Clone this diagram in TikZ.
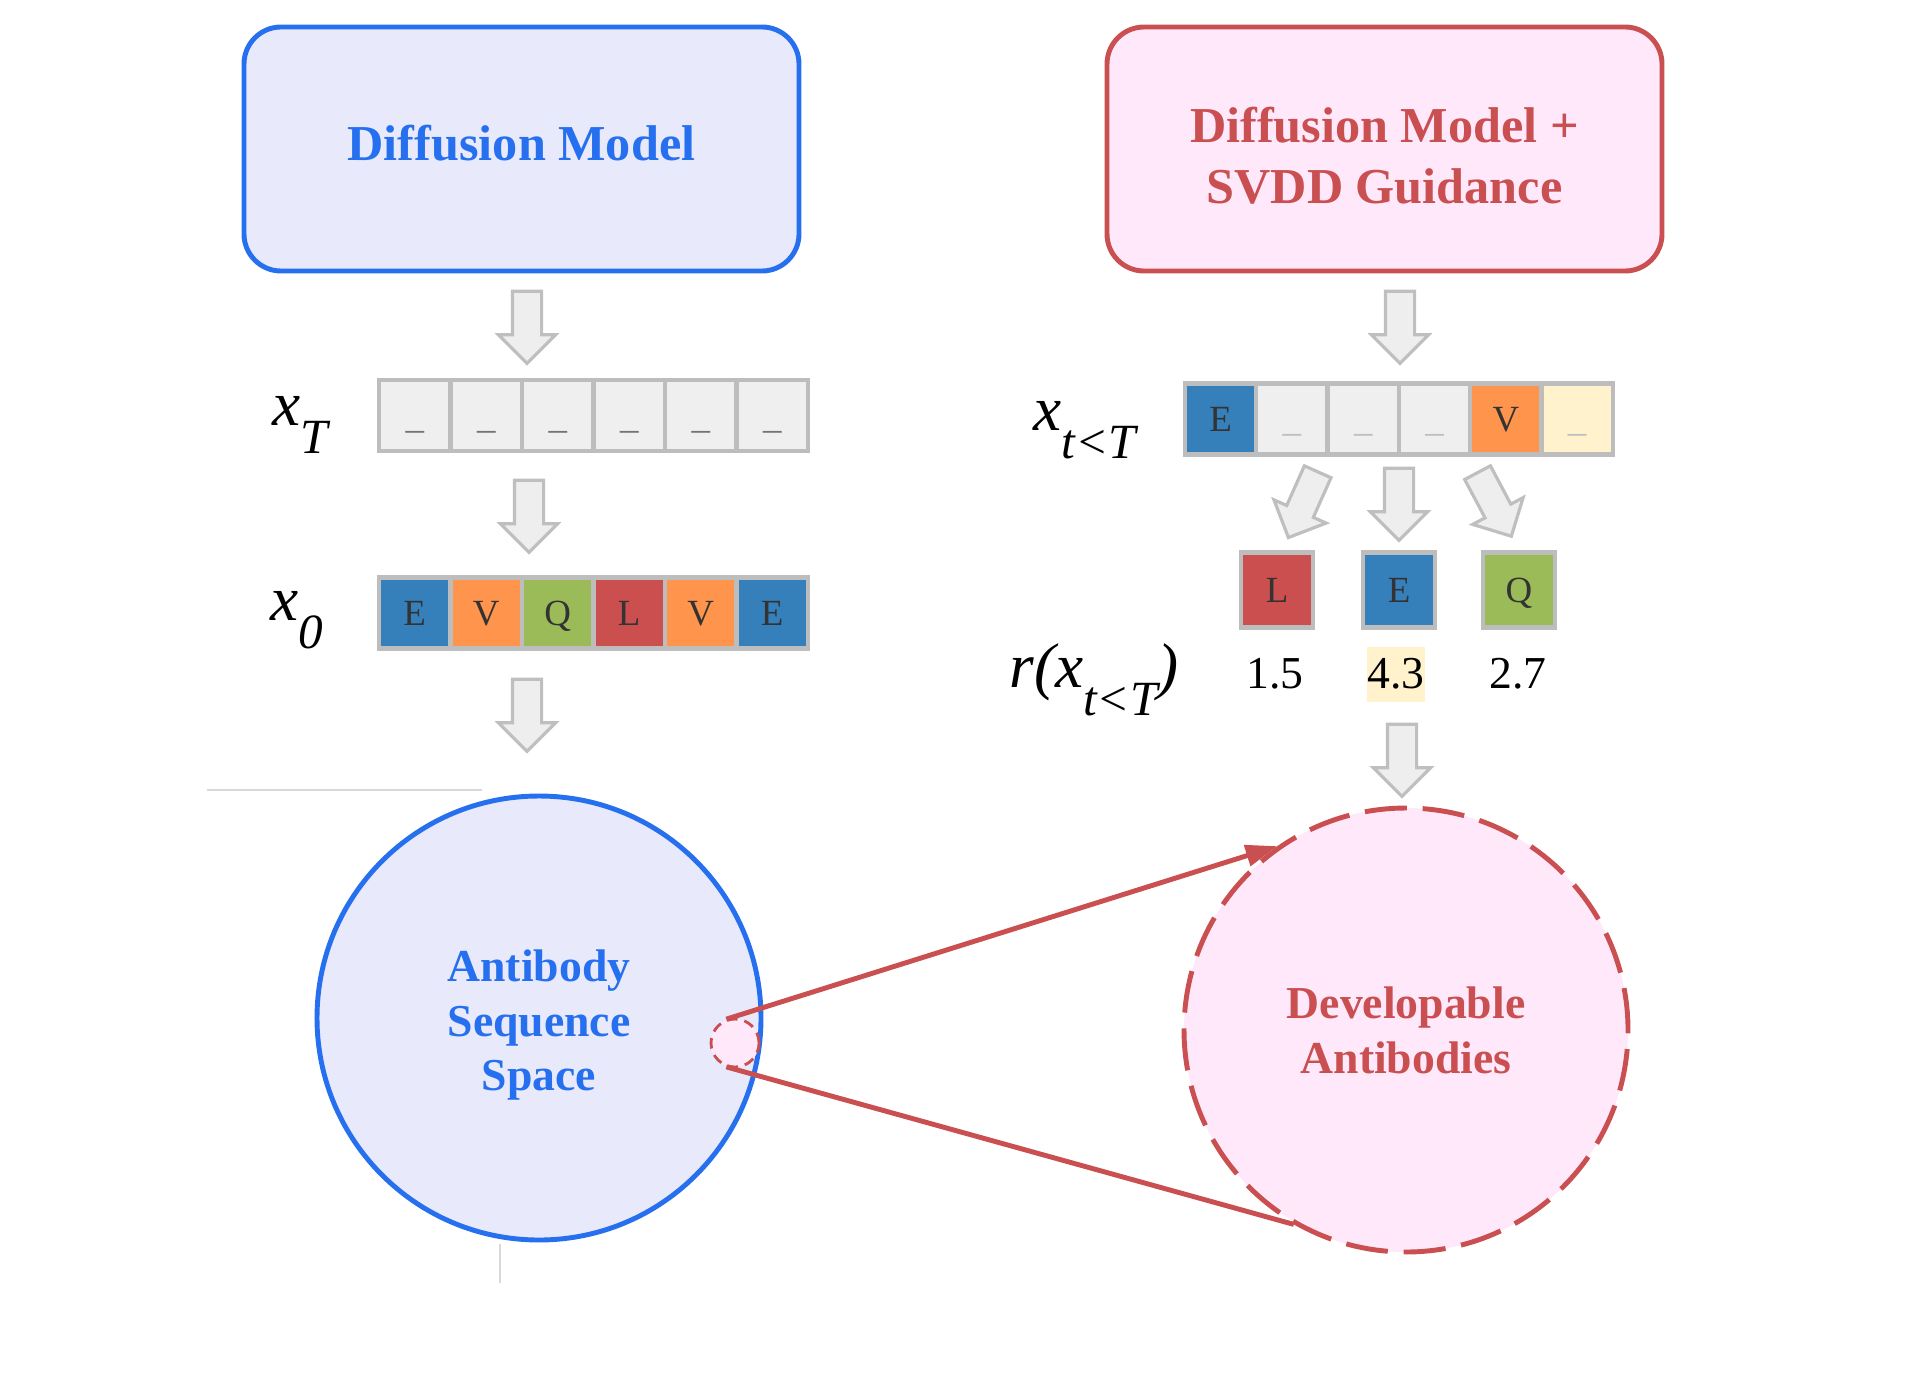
\documentclass[tikz,border=0pt]{standalone}
\usepackage{fontspec}
\setmainfont{Liberation Serif}
\usepackage{tikz}
\usetikzlibrary{shapes,arrows,positioning,calc,arrows.meta}

\definecolor{dmblue}{HTML}{2670F0}
\definecolor{dmbluefill}{HTML}{E8EAFB}
\definecolor{svred}{HTML}{C94F50}
\definecolor{svpink}{HTML}{FFE8FA}
\definecolor{aablue}{HTML}{3580BB}
\definecolor{aaorange}{HTML}{FF944D}
\definecolor{aagreen}{HTML}{9BBB59}
\definecolor{aared}{HTML}{CB4F4F}
\definecolor{aacream}{HTML}{FFF2CC}
\definecolor{cellgray}{HTML}{EFEFEF}
\definecolor{celledge}{HTML}{BDBDBD}
\definecolor{arrowfill}{HTML}{EEEEEE}
\definecolor{arrowedge}{HTML}{BFBFBF}

\tikzset{
  model/.style={rounded corners=0.37cm, minimum width=5.55cm, minimum height=2.44cm, line width=1.4pt, align=center, font=\fontsize{14.3}{17.3}\selectfont\bfseries},
  cell/.style={draw=celledge, line width=1.2pt, minimum width=0.715cm, minimum height=0.71cm, inner sep=0pt, outer sep=0pt, text height=0.25cm, text depth=0cm, font=\fontsize{10.5}{12}\selectfont},
  fatarrow/.style={single arrow, draw=arrowedge, fill=arrowfill, line width=0.9pt, inner sep=0.13cm, minimum height=0.72cm, minimum width=0.55cm, single arrow head extend=0.14cm},
  space/.style={circle, minimum size=4.44cm, align=center, line width=1.4pt, font=\fontsize{13}{15.6}\selectfont\bfseries},
  seqlabel/.style={font=\fontsize{18}{22}\selectfont\itshape},
  score/.style={font=\fontsize{13}{15}\selectfont, inner sep=0pt, minimum size=0.55cm},
  guide/.style={draw=black!15, line width=0.8pt}
}
\newcommand{\lowsub}[1]{\raisebox{-0.45em}{\fontsize{14}{16}\selectfont #1}}

\begin{document}
\begin{tikzpicture}
    \useasboundingbox (0,0) rectangle (19.12,-13.8);

    % Models
    \node[model, draw=dmblue, fill=dmbluefill, text=dmblue, text depth=0.12cm] (dm) at (5.215,-1.49) {Diffusion Model};
    \node[model, draw=svred, fill=svpink, text=svred] (svdd) at (13.845,-1.49) {\rule{0pt}{0.48cm}Diffusion Model +\\SVDD Guidance};

    % Left: plain sampling
    \node[fatarrow, rotate=-90] (a1) at (5.27,-3.20) {};
    \node[seqlabel] (xTlab) at (3.0,-4.25) {x\lowsub{T}};
    \foreach \i in {1,...,6}
        \node[cell, fill=cellgray, text=black!55] (xT\i) at (3.79+0.715*\i-0.3575,-4.155) {\_};

    \node[fatarrow, rotate=-90] (a2) at (5.29,-5.09) {};
    \node[seqlabel] (x0lab) at (2.97,-6.2) {x\lowsub{0}};
    \foreach \aa/\col [count=\i] in {E/aablue, V/aaorange, Q/aagreen, L/aared, V/aaorange, E/aablue}
        \node[cell, fill=\col, text=black!80] (x0\i) at (3.79+0.715*\i-0.3575,-6.13) {\aa};

    \node[fatarrow, rotate=-90] (a3) at (5.27,-7.08) {};

    % Right: guided sampling
    \node[fatarrow, rotate=-90] (b1) at (14.0,-3.20) {};
    \node[seqlabel] (xtlab) at (10.85,-4.3) {x\lowsub{t<T}};
    \foreach \aa/\col/\tc [count=\i] in {E/aablue/black!80, \_/cellgray/black!25, \_/cellgray/black!25, \_/cellgray/black!25, V/aaorange/black!80, \_/aacream/black!25}
        \node[cell, fill=\col, text=\tc] (xt\i) at (11.85+0.713*\i-0.3565,-4.19) {\aa};

    \node[fatarrow, rotate=-114] (b2) at (13.06,-4.98) {};
    \node[fatarrow, rotate=-90] (b3) at (13.99,-4.97) {};
    \node[fatarrow, rotate=-62] (b4) at (14.91,-4.98) {};

    \node[cell, minimum width=0.72cm, minimum height=0.75cm, fill=aared, text=black!80] (cL) at (12.77,-5.90) {L};
    \node[cell, minimum width=0.72cm, minimum height=0.75cm, fill=aablue, text=black!80] (cE) at (13.99,-5.90) {E};
    \node[cell, minimum width=0.72cm, minimum height=0.75cm, fill=aagreen, text=black!80] (cQ) at (15.19,-5.90) {Q};

    \node[seqlabel] (rlab) at (10.94,-6.8) {r(x\lowsub{t<T})};
    \node[score] (sL) at (12.75,-6.74) {1.5};
    \node[score, fill=aacream] (sE) at (13.96,-6.74) {4.3};
    \node[score] (sQ) at (15.18,-6.74) {2.7};

    \node[fatarrow, rotate=-90] (b5) at (14.02,-7.53) {};

    % Sequence spaces
    \draw[guide] (2.07,-7.90) -- (4.82,-7.90);
    \draw[guide] (5.00,-12.44) -- (5.00,-12.83);
    \node[space, draw=dmblue, fill=dmbluefill, text=dmblue] (abspace) at (5.39,-10.18) {\rule{0pt}{0.46cm}Antibody\\Sequence\\Space};
    \node[circle, minimum size=0.48cm, inner sep=0pt, draw=svred, fill=svpink, line width=0.8pt, dash pattern=on 3pt off 2pt] (pick) at (7.35,-10.43) {};
    \node[space, draw=svred, fill=svpink, text=svred, dash pattern=on 12pt off 4.5pt] (dev) at (14.06,-10.30) {Developable\\Antibodies};

    \draw[svred, line width=1.4pt, -{Triangle[length=9pt,width=6pt]}] (pick.110) -- (dev.125);
    \draw[svred, line width=1.4pt] (pick.250) -- (dev.240);

\end{tikzpicture}
\end{document}
